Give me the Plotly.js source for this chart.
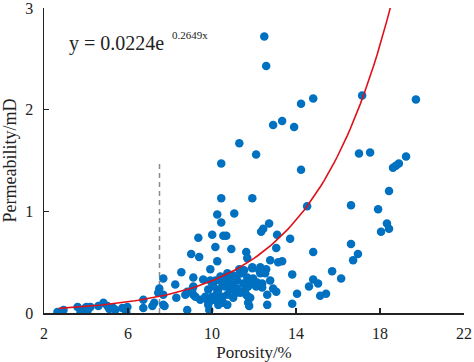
<!DOCTYPE html>
<html>
<head>
<meta charset="utf-8">
<script src="https://cdn.plot.ly/plotly-3.0.1.min.js"></script>
<style>html,body{margin:0;padding:0;background:#fff;}#chart{width:474px;height:362px;}</style>
</head>
<body>
<div id="chart"></div>
<script>
// Sample points: porosity (%) and permeability (mD)
var porosity = [
12.49,12.58,14.82,14.24,17.15,19.71,12.91,13.34,13.91,11.30,12.10,14.24,17.00,17.53,18.62,18.76,18.90,19.24,
10.44,10.44,11.92,10.25,11.06,10.44,12.72,12.44,12.34,9.35,10.01,10.54,10.68,13.10,14.53,16.62,17.91,18.43,
18.33,18.43,18.05,13.72,13.06,14.82,16.62,13.34,16.95,16.72,15.72,13.82,16.15,14.82,15.05,14.62,13.06,14.05,
15.15,15.43,13.82,12.63,
10.16,10.92,11.63,9.01,9.39,11.68,10.25,12.77,13.15,11.92,12.30,12.58,8.54,9.92,11.30,11.34,10.73,10.77,
7.68,9.11,9.58,9.92,11.68,12.30,12.53,12.15,12.39,12.77,8.25,9.11,8.82,9.82,10.06,10.49,10.96,11.20,11.72,
12.39,12.91,8.73,9.11,9.68,10.25,10.73,11.34,11.63,12.63,8.30,9.77,10.35,11.82,10.54,10.73,11.72,8.82,9.87,
11.39,11.53,11.92,12.25,11.20,12.10,11.72,10.16,10.40,10.87,11.11,10.63,10.01,10.30,11.01,9.44,11.49,11.96,
10.01,10.30,10.58,10.82,11.01,11.15,11.58,10.06,10.49,11.82,9.82,11.77,
7.49,7.44,7.68,9.06,9.21,9.87,7.68,7.25,7.16,6.73,6.73,5.97,5.92,5.73,5.40,5.30,5.11,5.02,4.83,4.59,4.21,
4.02,3.97,3.88,3.74,3.60,4.07,2.93,2.64,2.83,7.74
];
var permeability = [
2.72,2.43,2.11,2.06,2.14,2.10,1.85,1.89,1.83,1.67,1.56,1.41,1.57,1.58,1.43,1.45,1.47,1.54,
1.47,1.13,1.13,0.97,0.98,0.89,0.88,0.83,0.80,0.74,0.77,0.76,0.76,0.77,1.05,1.06,1.02,1.20,
0.88,0.83,0.80,0.73,0.64,0.60,0.68,0.51,0.58,0.52,0.41,0.38,0.34,0.33,0.29,0.26,0.21,0.19,
0.17,0.19,0.09,0.08,
0.65,0.63,0.60,0.58,0.55,0.54,0.51,0.52,0.50,0.45,0.45,0.43,0.40,0.43,0.43,0.39,0.39,0.35,
0.34,0.35,0.33,0.32,0.35,0.39,0.39,0.30,0.29,0.32,0.28,0.26,0.21,0.23,0.26,0.29,0.28,0.24,0.26,
0.25,0.24,0.18,0.18,0.16,0.20,0.18,0.20,0.18,0.18,0.15,0.13,0.14,0.15,0.10,0.08,0.10,0.03,0.03,
0.39,0.42,0.44,0.42,0.32,0.26,0.16,0.32,0.36,0.23,0.35,0.26,0.16,0.08,0.15,0.13,0.29,0.34,
0.29,0.23,0.32,0.29,0.37,0.20,0.23,0.13,0.16,0.30,0.08,0.07,
0.24,0.20,0.18,0.23,0.16,0.11,0.08,0.10,0.07,0.13,0.05,0.06,0.01,0.05,0.03,0.05,0.04,0.07,0.10,0.07,0.06,
0.06,0.05,0.01,0.01,0.06,0.02,0.03,0.01,0.01,0.07
];
// Exponential trendline from the chart's equation y = 0.0224 e^(0.2649x)
var fitA = 0.0224, fitB = 0.2649;
var fitXStart = 2.7, fitXEnd = 18.49;
// Dashed marker line at porosity 7.5%
var dashedX = [7.5, 7.5];
var dashedY = [0, 1.47];
var xTicks = [2, 6, 10, 14, 18, 22];
var yTicks = [0, 1, 2, 3];

var fitX = [], fitY = [];
for (var i = 0; i <= 100; i++) {
  var xv = fitXStart + (fitXEnd - fitXStart) * i / 100;
  fitX.push(xv); fitY.push(fitA * Math.exp(fitB * xv));
}

var serif = "'Liberation Serif', 'Times New Roman', serif";
var traces = [
  {x: dashedX, y: dashedY, mode: 'lines', line: {color: '#8c8c8c', width: 1.5, dash: '5px,4px'}, hoverinfo: 'skip'},
  {x: porosity, y: permeability, mode: 'markers', type: 'scatter',
   marker: {color: '#0070C0', size: 8.5}},
  {x: fitX, y: fitY, mode: 'lines', line: {color: '#e0101a', width: 1.6}}
];
var layout = {
  width: 474, height: 362,
  margin: {l: 44, r: 10, t: 8, b: 49},
  showlegend: false,
  paper_bgcolor: '#fff', plot_bgcolor: '#fff',
  font: {family: serif, color: '#222', size: 15},
  xaxis: {
    range: [2, 22], tickmode: 'array', tickvals: xTicks, ticktext: xTicks.map(String),
    showgrid: false, zeroline: false, showline: true, linecolor: '#222', linewidth: 1.5,
    ticks: 'inside', ticklen: 5, tickwidth: 1.2, tickcolor: '#222',
    tickfont: {family: serif, size: 16, color: '#222'}, ticklabelstandoff: 5,
    ticklabeloverflow: 'allow',
    title: {text: 'Porosity/%', font: {family: serif, size: 17, color: '#222'}, standoff: 6},
    automargin: false
  },
  yaxis: {
    range: [0, 3.001], tickmode: 'array', tickvals: yTicks, ticktext: yTicks.map(String),
    showgrid: false, zeroline: false, showline: true, linecolor: '#222', linewidth: 1.5,
    ticks: 'inside', ticklen: 5, tickwidth: 1.2, tickcolor: '#222',
    tickfont: {family: serif, size: 16, color: '#222'}, ticklabelstandoff: 6,
    ticklabeloverflow: 'allow',
    title: {text: 'Permeability/mD', font: {family: serif, size: 18, color: '#222'}, standoff: 8},
    automargin: false
  },
  annotations: [
    {xref: 'paper', yref: 'paper', x: 0.054, y: 0.885, xanchor: 'left', yanchor: 'middle',
     text: 'y = 0.0224e', showarrow: false, font: {family: serif, size: 20, color: '#222'}},
    {xref: 'paper', yref: 'paper', x: 0.300, y: 0.912, xanchor: 'left', yanchor: 'middle',
     text: '0.2649x', showarrow: false, font: {family: serif, size: 11, color: '#222'}}
  ]
};
Plotly.newPlot('chart', traces, layout, {displayModeBar: false, staticPlot: true});
</script>
</body>
</html>
